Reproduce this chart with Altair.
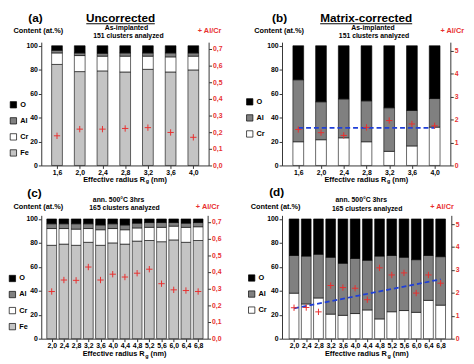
import altair as alt
import pandas as pd

# ---------------- data ----------------
rad_ab = [1.6, 2.0, 2.4, 2.8, 3.2, 3.6, 4.0]
rad_cd = [2.0, 2.4, 2.8, 3.2, 3.6, 4.0, 4.4, 4.8, 5.2, 5.6, 6.0, 6.4, 6.8]

# (a) uncorrected, as-implanted (at.%)
a_fe = [84.4, 78.4, 79.0, 78.1, 80.3, 78.1, 79.8]
a_cr = [9.6, 13.4, 12.3, 13.2, 11.0, 12.6, 11.5]
a_al = [2.2, 2.2, 2.4, 2.7, 2.7, 3.3, 2.7]
a_o = [3.8, 6.0, 6.3, 6.0, 6.0, 6.0, 6.0]
a_ratio = [0.178, 0.218, 0.218, 0.222, 0.227, 0.198, 0.169]

# (b) matrix-corrected, as-implanted
b_cr = [19.8, 21.5, 23.1, 19.8, 11.8, 16.3, 32.0]
b_al = [51.8, 31.7, 32.5, 34.2, 36.4, 29.7, 23.9]
b_o = [28.4, 46.8, 44.4, 46.0, 51.8, 54.0, 44.1]
b_ratio = [1.57, 1.43, 1.31, 1.66, 1.96, 1.81, 1.73]
b_fit_r = [1.6, 4.0]
b_fit = [1.64, 1.64]

# (c) uncorrected, annealed
c_fe = [78, 79, 78, 80.5, 78, 80, 79, 81.5, 82, 81, 82.5, 80.5, 82]
c_cr = [14, 13, 13.5, 11.5, 13, 12, 12, 11, 11, 12, 11.5, 12.5, 11.5]
c_al = [4, 4, 4.5, 4, 4, 4, 4, 4, 4, 4, 3, 3.5, 3.5]
c_o = [4, 4, 4, 4, 5, 4, 5, 3.5, 3, 3, 3, 3.5, 3]
c_ratio = [0.283, 0.352, 0.35, 0.43, 0.352, 0.387, 0.37, 0.393, 0.417, 0.33, 0.293, 0.289, 0.283]

# (d) matrix-corrected, annealed
d_cr = [38.0, 29.0, 34.0, 20.5, 19.5, 21.0, 24.0, 16.5, 22.5, 23.5, 22.0, 32.0, 28.0]
d_al = [31.5, 40.0, 36.5, 47.5, 43.5, 46.0, 41.5, 52.5, 47.0, 44.5, 44.0, 37.5, 40.5]
d_o = [30.5, 31.0, 29.5, 32.0, 37.0, 33.0, 34.5, 31.0, 30.5, 32.0, 34.0, 30.5, 31.5]
d_ratio = [1.35, 1.36, 1.17, 2.32, 2.23, 2.20, 1.70, 3.09, 2.78, 2.87, 1.99, 2.78, 2.42]
d_fit_r = [2.0, 6.8]
d_fit = [1.32, 2.59]

left_ticks = [0, 20, 40, 60, 80, 100]
right_ticks_ac = [0.0, 0.1, 0.2, 0.3, 0.4, 0.5, 0.6, 0.7]
right_ticks_bd = [0, 1, 2, 3, 4, 5]

elements4 = ["O", "Al", "Cr", "Fe"]
colors4 = ["#000000", "#808080", "#ffffff", "#c4c4c4"]
elements3 = ["O", "Al", "Cr"]
colors3 = ["#000000", "#808080", "#ffffff"]
stack_rank = {"Fe": 0, "Cr": 1, "Al": 2, "O": 3}

RED = "#e8302f"
BLUE = "#1f3fd8"
FONT = "Liberation Sans"
ONE = pd.DataFrame({"k": [0]})


def comma(fmt):
    return f"replace(format(datum.value,'{fmt}'),'.',',')"


def txt(s, x, y, size=7.5, color="black", align="center", weight="bold"):
    return alt.Chart(ONE).mark_text(
        text=s, fontSize=size, fontWeight=weight, color=color, align=align,
        baseline="middle", font=FONT
    ).encode(x=alt.value(x), y=alt.value(y))


def rule(x1, x2, y):
    return alt.Chart(ONE).mark_rule(color="black", strokeWidth=1).encode(
        x=alt.value(x1), x2=alt.value(x2), y=alt.value(y))


def xtitle(cx, y):
    return [
        txt("Effective radius R", cx + 20.6, y, align="right"),
        txt("g", cx + 21.2, y + 1.5, size=5.5, align="left"),
        txt("(nm)", cx + 26.6, y, align="left"),
    ]


def panel(radii, comp, elements, colors, ratio, fit_r, fit_v, xdom, w, h,
          rmax, rticks, rfmt, bar_size, legend_xy, texts, frame):
    rows = []
    for el, vals in comp.items():
        for r, v in zip(radii, vals):
            rows.append({"r": r, "el": el, "v": v, "o": stack_rank[el]})
    df = pd.DataFrame(rows)

    xenc = alt.X(
        "r:Q",
        scale=alt.Scale(domain=xdom, nice=False, zero=False),
        axis=alt.Axis(values=radii, labelExpr=comma(".1f"), title=None, tickSize=3,
                      labelPadding=0, labelFontSize=7, labelFontWeight="bold",
                      labelFlush=False, labelOverlap=False, grid=False,
                      domainColor="#333", tickColor="#333", labelColor="black"),
    )
    bars = alt.Chart(df).mark_bar(size=bar_size, stroke="black", strokeWidth=0.6).encode(
        x=xenc,
        y=alt.Y("v:Q", stack="zero",
                scale=alt.Scale(domain=[0, 103], nice=False),
                axis=alt.Axis(orient="left", values=left_ticks, title=None, tickSize=3,
                              labelPadding=1, labelFontSize=7, labelFontWeight="bold",
                              grid=False, domainColor="#333", tickColor="#333",
                              labelColor="black")),
        color=alt.Color("el:N", scale=alt.Scale(domain=elements, range=colors),
                        legend=alt.Legend(orient="none", legendX=legend_xy[0],
                                          legendY=legend_xy[1], title=None,
                                          symbolType="square", symbolSize=42,
                                          symbolStrokeColor="black", symbolStrokeWidth=0.7,
                                          labelFontSize=7.5, labelFontWeight="bold",
                                          labelFont=FONT, labelOffset=3, rowPadding=6.4,
                                          padding=0)),
        order=alt.Order("o:Q", sort="ascending"),
    )
    yr = alt.Y("ratio:Q", scale=alt.Scale(domain=[0, rmax], nice=False),
               axis=alt.Axis(orient="right", values=rticks, labelExpr=comma(rfmt),
                             title=None, tickSize=3, labelPadding=1, labelFontSize=7,
                             labelFontWeight="bold", labelColor=RED, grid=False,
                             domainColor="#333", tickColor="#333"))
    inner = []
    if fit_r:
        inner.append(alt.Chart(pd.DataFrame({"r": fit_r, "ratio": fit_v})).mark_line(
            color=BLUE, strokeDash=[5, 3], strokeWidth=1.8).encode(x=xenc, y=yr))
    inner.append(alt.Chart(pd.DataFrame({"r": radii, "ratio": ratio})).mark_point(
        shape="M-1,0L1,0M0,-1L0,1", size=42, filled=False, color=RED,
        strokeWidth=1, opacity=1).encode(x=xenc, y=yr))

    frame_layer = alt.Chart(ONE).mark_rect(opacity=0).encode(
        x=alt.value(frame[0]), x2=alt.value(frame[1]),
        y=alt.value(frame[2]), y2=alt.value(frame[3]))

    return alt.layer(bars, alt.layer(*inner), *texts, frame_layer).resolve_scale(
        y="independent").properties(width=w, height=h)


pa = panel(rad_ab, {"Fe": a_fe, "Cr": a_cr, "Al": a_al, "O": a_o}, elements4, colors4,
           a_ratio, None, None, [1.409, 4.183], 171, 126, 0.74, right_ticks_ac, ".1f",
           11, (-32.5, 60),
           [txt("(a)", -6, -24.5, 12), txt("Uncorrected", 81, -24.5, 12), rule(46, 116, -18.8),
            txt("Content (at.%)", -3, -11), txt("As-implanted", 87, -14.8, 7),
            txt("151 clusters analyzed", 89, -6.3, 7), txt("+ Al/Cr", 172, -11, color=RED)]
           + xtitle(85.5, 140.5),
           (-33, 196, -31, 145))

pb = panel(rad_ab, {"Cr": b_cr, "Al": b_al, "O": b_o}, elements3, colors3,
           b_ratio, b_fit_r, b_fit, [1.40, 4.19], 172, 126, 5.38, right_ticks_bd, ".0f",
           11, (-37, 57),
           [txt("(b)", -2.5, -24.5, 12), txt("Matrix-corrected", 86, -24.5, 12),
            rule(39, 133, -18.8),
            txt("Content (at.%)", -3, -11), txt("As-implanted", 93, -14.8, 7),
            txt("151 clusters analyzed", 94, -6.3, 7),
            txt("+ Al/Cr", 186, -11, color=RED, align="right")]
           + xtitle(86, 140.5),
           (-50, 187, -31, 145))

pc = panel(rad_cd, {"Fe": c_fe, "Cr": c_cr, "Al": c_al, "O": c_o}, elements4, colors4,
           c_ratio, None, None, [1.819, 6.951], 170, 126, 0.74, right_ticks_ac, ".1f",
           10, (-33.5, 60.5),
           [txt("(c)", -7, -23, 12), txt("Content (at.%)", -3, -8),
            txt("ann. 500°C 3hrs", 79, -16, 7), txt("165 clusters analyzed", 85, -7, 7),
            txt("+ Al/Cr", 170, -8, color=RED)]
           + xtitle(85, 142),
           (-34, 195, -31, 149))

pd_ = panel(rad_cd, {"Cr": d_cr, "Al": d_al, "O": d_o}, elements3, colors3,
            d_ratio, d_fit_r, d_fit, [1.767, 6.99], 173, 126, 5.38, right_ticks_bd, ".0f",
            10, (-35, 60),
            [txt("(d)", -5.5, -24, 12), txt("Content (at.%)", -6.5, -8),
             txt("ann. 500°C 3hrs", 81, -16, 7), txt("165 clusters analyzed", 87, -6, 7),
             txt("+ Al/Cr", 163.5, -9, color=RED)]
            + xtitle(86.5, 142),
            (-49, 188, -31, 149))

chart = alt.concat(pa, pb, pc, pd_, columns=2, spacing=0).resolve_scale(
    color="independent").resolve_legend(color="independent").properties(
    padding=0).configure(font=FONT).configure_view(stroke=None).configure_axis(
    labelFont=FONT)

chart.save("out.html", embed_options={"renderer": "svg", "actions": False})
